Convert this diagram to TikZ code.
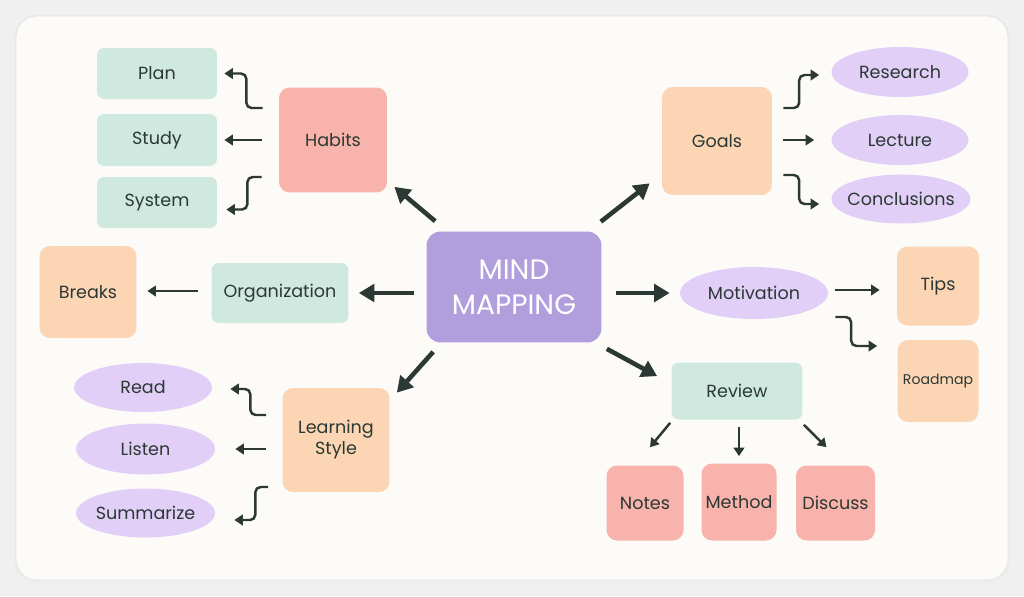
\documentclass[tikz,border=0pt]{standalone}
\usepackage{fontspec}
\setmainfont{Poppins}
\usetikzlibrary{arrows.meta,calc,shapes.geometric}

\definecolor{pagebg}{RGB}{240,240,240}
\definecolor{card}{RGB}{253,251,248}
\definecolor{ink}{RGB}{43,56,51}
\definecolor{mint}{RGB}{207,232,224}
\definecolor{rose}{RGB}{248,180,172}
\definecolor{peach}{RGB}{252,214,180}
\definecolor{lilac}{RGB}{226,207,248}
\definecolor{hubpurple}{RGB}{176,158,221}

\begin{document}
\begin{tikzpicture}[
  x=0.02cm, y=-0.02cm,
  lbl/.style={inner sep=0pt, text=ink, font=\fontsize{10}{12}\selectfont, align=center},
  mintbox/.style={lbl, rectangle, rounded corners=4pt, fill=mint},
  rosebox/.style={lbl, rectangle, rounded corners=6pt, fill=rose},
  peachbox/.style={lbl, rectangle, rounded corners=6pt, fill=peach},
  lilacoval/.style={lbl, ellipse, inner xsep=-3pt, fill=lilac},
  hub/.style={rectangle, rounded corners=8pt, fill=hubpurple, text=white, align=center, font=\fontsize{16}{20}\selectfont},
  marr/.style={-{Triangle[length=0.31cm,width=0.35cm]}, line width=2.6pt, draw=ink},
  sarr/.style={-{Triangle[length=0.17cm,width=0.21cm]}, line width=1.4pt, draw=ink, rounded corners=3pt}
]
  \useasboundingbox (0,0) rectangle (1024,596);
  \fill[pagebg] (0,0) rectangle (1024,596);
  \fill[gray!14, rounded corners=12pt] (14,15) rectangle (1010,583);
  \filldraw[fill=card, draw=gray!22, rounded corners=12pt] (16,16) rectangle (1008,580);

  % Centre
  \node[hub, minimum width=3.5cm, minimum height=2.22cm] (mind) at (514,287) {MIND\\MAPPING};

  % Habits branch
  \node[rosebox, minimum width=2.16cm, minimum height=2.1cm] (habits) at (333,140) {Habits};
  \node[mintbox, minimum width=2.4cm, minimum height=1.02cm] (plan) at (157,73.5) {Plan};
  \node[mintbox, minimum width=2.4cm, minimum height=1.04cm] (study) at (157,140) {Study};
  \node[mintbox, minimum width=2.4cm, minimum height=1.02cm] (system) at (157,202.5) {System};

  % Goals branch
  \node[peachbox, minimum width=2.2cm, minimum height=2.16cm] (goals) at (717,141) {Goals};
  \node[lilacoval, minimum width=2.74cm, minimum height=1cm] (research) at (900,72) {Research};
  \node[lilacoval, minimum width=2.74cm, minimum height=1cm] (lecture) at (900,140) {Lecture};
  \node[lilacoval, minimum width=2.78cm, minimum height=0.98cm] (concl) at (901,199) {Conclusions};

  % Organization branch
  \node[mintbox, minimum width=2.74cm, minimum height=1.2cm] (org) at (280,293) {Organization};
  \node[peachbox, minimum width=1.94cm, minimum height=1.84cm] (breaks) at (88,292) {Breaks};

  % Learning style branch
  \node[peachbox, minimum width=2.14cm, minimum height=2.08cm] (ls) at (336,440) {Learning\\Style};
  \node[lilacoval, minimum width=2.76cm, minimum height=0.98cm] (read) at (143,387.5) {Read};
  \node[lilacoval, minimum width=2.78cm, minimum height=1.02cm] (listen) at (145.5,449) {Listen};
  \node[lilacoval, minimum width=2.78cm, minimum height=0.98cm] (summ) at (145.5,513) {Summarize};

  % Motivation branch
  \node[lilacoval, minimum width=2.96cm, minimum height=1.04cm] (motiv) at (754,293) {Motivation};
  \node[peachbox, minimum width=1.64cm, minimum height=1.58cm] (tips) at (938,286) {Tips};
  \node[peachbox, minimum width=1.62cm, minimum height=1.64cm, font=\fontsize{8}{10}\selectfont] (roadmap) at (938,381) {Roadmap};

  % Review branch
  \node[mintbox, minimum width=2.62cm, minimum height=1.14cm] (review) at (737,391) {Review};
  \node[rosebox, minimum width=1.54cm, minimum height=1.5cm] (notes) at (645,503) {Notes};
  \node[rosebox, minimum width=1.5cm, minimum height=1.54cm] (method) at (739,502) {Method};
  \node[rosebox, minimum width=1.58cm, minimum height=1.5cm] (discuss) at (835.5,503) {Discuss};

  % Main arrows
  \draw[marr] ($(mind.north west)+(9,-10)$) -- ($(habits.south east)+(7,-6)$);
  \draw[marr] ($(mind.north east)+(-1,-9.5)$) -- ($(goals.south west)+(-12,-12)$);
  \draw[marr] ($(mind.west)+(-12,6)$) -- ($(org.east)+(10,0)$);
  \draw[marr] ($(mind.east)+(14,6)$) -- ($(motiv.west)+(-10,0)$);
  \draw[marr] ($(mind.south west)+(7,9)$) -- ($(ls.north east)+(7,5)$);
  \draw[marr] ($(mind.south east)+(5,6)$) -- ($(review.north west)+(-14,14)$);

  % Small arrows
  \draw[sarr] ($(habits.west)+(-16,-32)$) -| ($(plan.east)+(29,0)$) -- ($(plan.east)+(7,0)$);
  \draw[sarr] ($(habits.west)+(-17,0)$) -- ($(study.east)+(7,0)$);
  \draw[sarr] ($(habits.west)+(-17,37)$) -| ($(system.east)+(30,7)$) -- ($(system.east)+(9,7)$);

  \draw[sarr] ($(goals.east)+(11,-33)$) -| ($(research.west)+(-32,3)$) -- ($(research.west)+(-12,3)$);
  \draw[sarr] ($(goals.east)+(11,-1)$) -- ($(lecture.west)+(-17,0)$);
  \draw[sarr] ($(goals.east)+(11,34)$) -| ($(concl.west)+(-32,5)$) -- ($(concl.west)+(-12,5)$);

  \draw[sarr] ($(org.west)+(-13,-2)$) -- ($(breaks.east)+(10.5,-1)$);

  \draw[sarr] ($(ls.west)+(-16,-25)$) -| ($(read.east)+(38,1.5)$) -- ($(read.east)+(18,1.5)$);
  \draw[sarr] ($(ls.west)+(-16,9)$) -- ($(listen.east)+(20,0)$);
  \draw[sarr] ($(ls.west)+(-14,47)$) -| ($(summ.east)+(40,7)$) -- ($(summ.east)+(19,7)$);

  \draw[sarr] ($(motiv.east)+(7,-3)$) -- ($(tips.west)+(-17,4)$);
  \draw[sarr] ($(motiv.east)+(7,24)$) -| ($(roadmap.west)+(-46,-35)$) -- ($(roadmap.west)+(-20,-35)$);

  \draw[sarr] ($(review.south west)+(-1,3)$) -- ($(notes.north)+(5,-18)$);
  \draw[sarr] ($(review.south)+(2,7)$) -- ($(method.north)+(0,-7)$);
  \draw[sarr] ($(review.south east)+(1,5)$) -- ($(discuss.north)+(-9,-18)$);
\end{tikzpicture}
\end{document}
